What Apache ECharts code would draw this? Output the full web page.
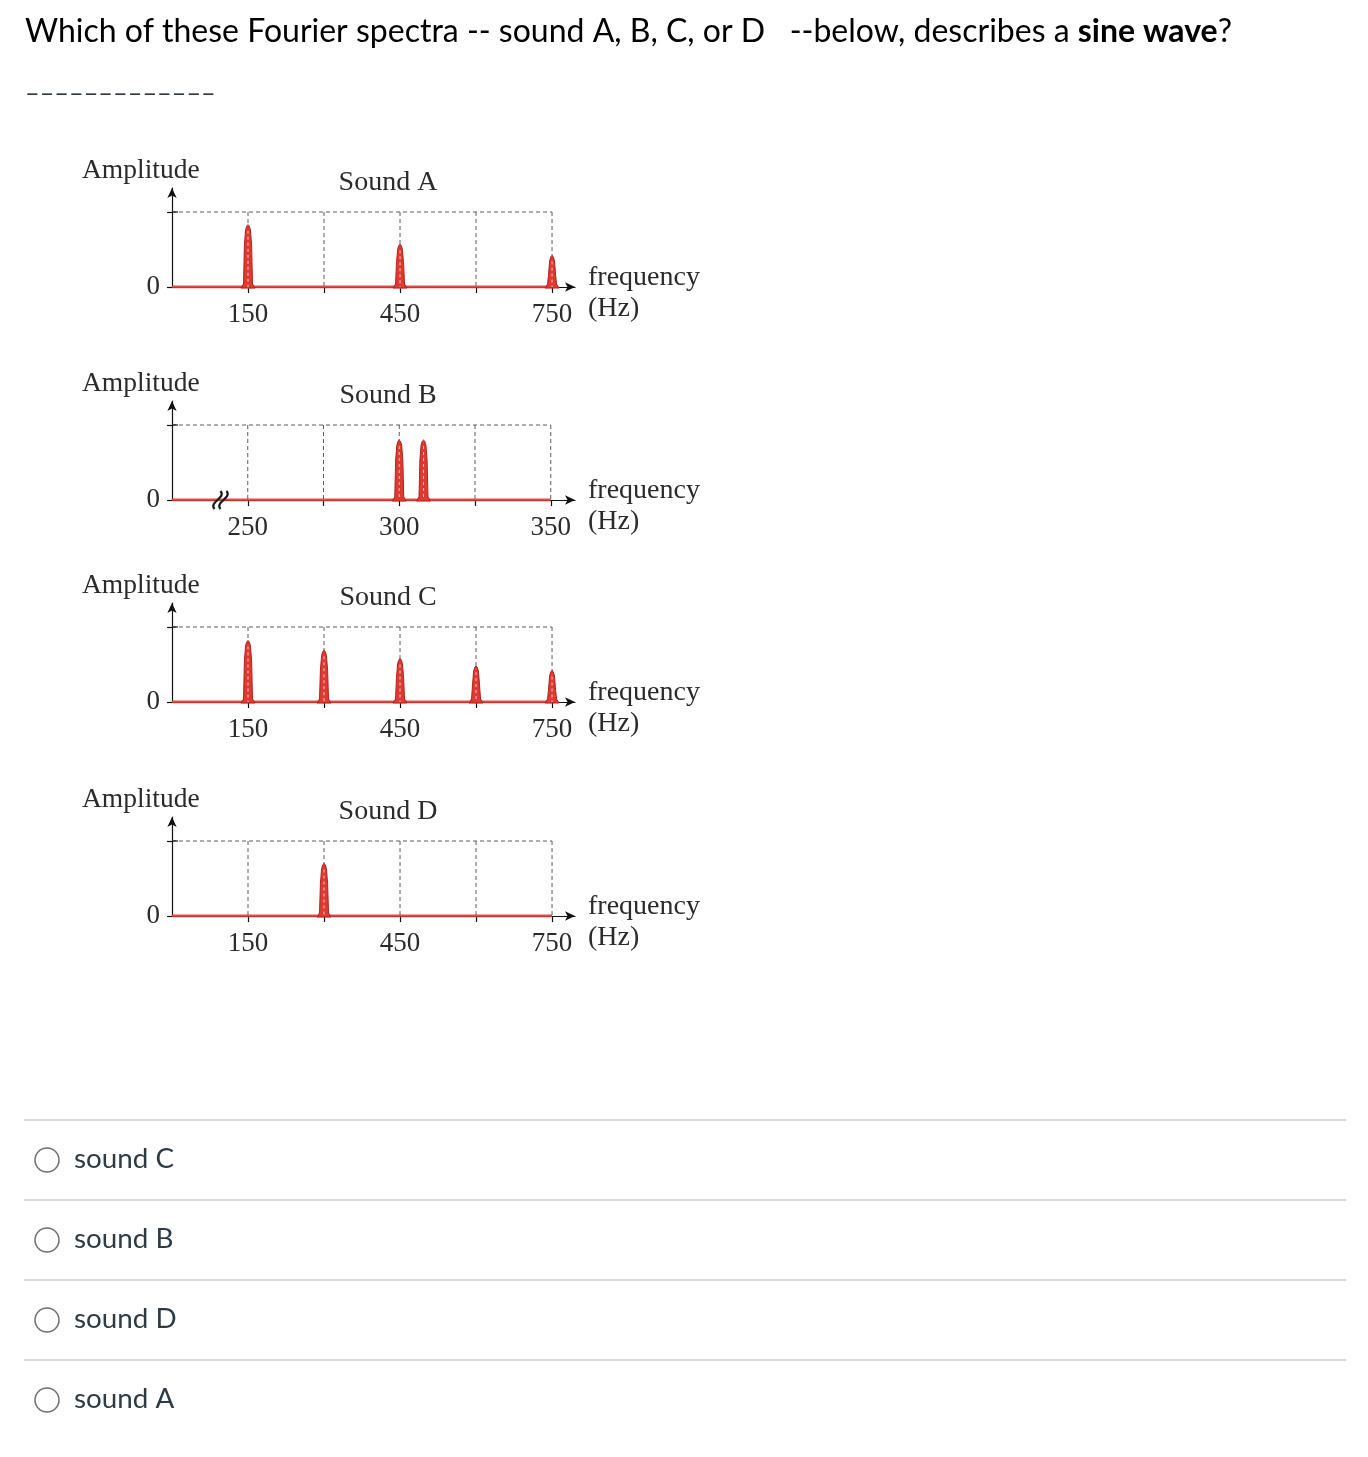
<!DOCTYPE html>
<html><head><meta charset="utf-8">
<script src="https://cdn.jsdelivr.net/npm/echarts@6/dist/echarts.min.js"></script>
<style>html,body{margin:0;padding:0;background:#fff}#c{width:1368px;height:1457px}</style>
</head><body><div id="c"></div>
<script>
// ---- data ----
const soundTitles = ['Sound A', 'Sound B', 'Sound C', 'Sound D'];
const peakFreqA = [150, 450, 750];
const peakAmpA  = [0.83, 0.57, 0.42];
const peakFreqB = [300, 308];
const peakAmpB  = [0.80, 0.80];
const peakFreqC = [150, 300, 450, 600, 750];
const peakAmpC  = [0.82, 0.69, 0.58, 0.48, 0.42];
const peakFreqD = [300];
const peakAmpD  = [0.70];
const gridFreqA = [150, 300, 450, 600, 750];
const gridFreqB = [250, 275, 300, 325, 350];
const tickLabelsA = [150, 450, 750];
const tickLabelsB = [250, 300, 350];
const spanA = [0, 750];
const spanB = [225, 350];
const breakFreqB = [241];
const refAmp = 1;
const zeroLabel = [0];
const axisNameLines = ['frequency', '(Hz)'];
const answerChoices = ['sound C', 'sound B', 'sound D', 'sound A'];

// ---- layout ----
const SERIF = '"Liberation Serif","Times New Roman",serif';
const INK = '#2d3b45';
const CH = '#2b2b2b';
const RED = '#de3a31';
const baselines = [287, 500, 702, 916];
const charts = [
  {title: soundTitles[0], pf: peakFreqA, pa: peakAmpA, gf: gridFreqA, tl: tickLabelsA, span: spanA, max: 795.3, brk: []},
  {title: soundTitles[1], pf: peakFreqB, pa: peakAmpB, gf: gridFreqB, tl: tickLabelsB, span: spanB, max: 358, brk: breakFreqB},
  {title: soundTitles[2], pf: peakFreqC, pa: peakAmpC, gf: gridFreqA, tl: tickLabelsA, span: spanA, max: 795.3, brk: []},
  {title: soundTitles[3], pf: peakFreqD, pa: peakAmpD, gf: gridFreqA, tl: tickLabelsA, span: spanA, max: 795.3, brk: []}
];

const grid = [], xAxis = [], yAxis = [], series = [], graphic = [];

charts.forEach((c, i) => {
  const base = baselines[i];
  grid.push({left: 172, width: 403, top: base - 99, height: 99});
  xAxis.push({
    type: 'value', gridIndex: i, min: c.span[0], max: c.max,
    axisLine: {show: true, onZero: false, lineStyle: {color: '#111', width: 1.2}, symbol: ['none', 'arrow'], symbolSize: [7, 10]},
    axisTick: {show: true, customValues: c.gf, length: 6, lineStyle: {color: '#111', width: 1.2}},
    axisLabel: {show: true, customValues: c.tl, formatter: v => String(v), margin: 14, fontFamily: SERIF, fontSize: 27, color: CH},
    splitLine: {show: false}
  });
  yAxis.push({
    type: 'value', gridIndex: i, min: 0, max: 1.32,
    axisLine: {show: true, onZero: false, lineStyle: {color: '#111', width: 1.2}, symbol: ['none', 'arrow'], symbolSize: [7, 10]},
    axisTick: {show: true, customValues: [0, refAmp], length: 5, lineStyle: {color: '#111', width: 1.2}},
    axisLabel: {show: true, customValues: zeroLabel, formatter: v => String(v), margin: 12, fontFamily: SERIF, fontSize: 27, color: CH},
    splitLine: {show: false}
  });
  // dashed verticals at grid frequencies
  series.push({
    type: 'custom', xAxisIndex: i, yAxisIndex: i, z: 1, silent: true,
    data: c.gf.map(f => [f, refAmp]),
    renderItem: (p, api) => {
      const b = api.coord([api.value(0), 0]);
      const t = api.coord([api.value(0), api.value(1)]);
      return {type: 'line', shape: {x1: t[0], y1: t[1], x2: b[0], y2: b[1]},
        style: {stroke: '#5c5c5c', lineWidth: 1, lineDash: [4, 3]}};
    }
  });
  // dashed reference level line + crossing tick
  series.push({
    type: 'custom', xAxisIndex: i, yAxisIndex: i, z: 1, silent: true,
    data: [[c.span[0], c.span[1], refAmp]],
    renderItem: (p, api) => {
      const a = api.coord([api.value(0), api.value(2)]);
      const b = api.coord([api.value(1), api.value(2)]);
      return {type: 'group', children: [
        {type: 'line', shape: {x1: a[0], y1: a[1], x2: b[0], y2: b[1]}, style: {stroke: '#5c5c5c', lineWidth: 1, lineDash: [4, 3]}},
        {type: 'line', shape: {x1: a[0], y1: a[1], x2: a[0] + 6, y2: a[1]}, style: {stroke: '#111', lineWidth: 1.2}}
      ]};
    }
  });
  // red zero-amplitude baseline
  series.push({
    type: 'line', xAxisIndex: i, yAxisIndex: i, z: 2, silent: true, symbol: 'none',
    data: [[c.span[0], 0], [c.span[1], 0]],
    lineStyle: {color: RED, width: 3.2, opacity: 0.9}
  });
  // spectral peaks
  series.push({
    type: 'custom', xAxisIndex: i, yAxisIndex: i, z: 3, silent: true,
    data: c.pf.map((f, k) => [f, c.pa[k]]),
    renderItem: (p, api) => {
      const b = api.coord([api.value(0), 0]);
      const t = api.coord([api.value(0), api.value(1)]);
      const bx = b[0], by = b[1], tx = t[0], ty = t[1];
      const pts = [[bx - 7, by + 1], [bx - 4.5, by - 3], [bx - 3.6, ty + 20], [tx - 2.4, ty + 5], [tx - 1.2, ty + 1.2], [tx, ty],
                   [tx + 1.2, ty + 1.2], [tx + 2.4, ty + 5], [bx + 3.6, ty + 20], [bx + 4.5, by - 3], [bx + 7, by + 1]];
      return {type: 'group', children: [
        {type: 'polygon', shape: {points: pts}, style: {fill: RED, stroke: '#b3221b', lineWidth: 1}},
        {type: 'line', shape: {x1: tx, y1: ty + 6, x2: bx, y2: by}, style: {stroke: '#f6c6bf', lineWidth: 1, lineDash: [3, 3]}}
      ]};
    }
  });
  // axis break mark
  if (c.brk.length) {
    series.push({
      type: 'custom', xAxisIndex: i, yAxisIndex: i, z: 4, silent: true,
      data: c.brk.map(f => [f, 0]),
      renderItem: (p, api) => {
        const q = api.coord([api.value(0), 0]);
        const mk = dx => ({type: 'bezierCurve', shape: {x1: q[0] + dx - 3, y1: q[1] + 9, cpx1: q[0] + dx - 9, cpy1: q[1] + 2,
          cpx2: q[0] + dx + 9, cpy2: q[1] - 2, x2: q[0] + dx + 3, y2: q[1] - 9}, style: {stroke: '#1a1a1a', lineWidth: 2.2, fill: null}});
        return {type: 'group', children: [mk(-3), mk(3)]};
      }
    });
  }
  graphic.push({type: 'text', x: 82, y: base - 116, style: {text: 'Amplitude', font: '27.5px ' + SERIF, fill: CH, verticalAlign: 'middle', align: 'left'}});
  graphic.push({type: 'text', x: 388, y: base - 104, style: {text: c.title, font: '28px ' + SERIF, fill: CH, verticalAlign: 'middle', align: 'center'}});
  graphic.push({type: 'text', x: 588, y: base - 9, style: {text: axisNameLines[0], font: '28px ' + SERIF, fill: CH, verticalAlign: 'middle', align: 'left'}});
  graphic.push({type: 'text', x: 588, y: base + 22, style: {text: axisNameLines[1], font: '28px ' + SERIF, fill: CH, verticalAlign: 'middle', align: 'left'}});
});

// question text
graphic.push({type: 'text', x: 25, y: 32, style: {
  text: '{n|Which of these Fourier spectra -- sound A, B, C, or D   --below, describes a }{b|sine wave}{n|?}',
  rich: {n: {fontFamily: 'Lato', fontSize: 32, color: INK}, b: {fontFamily: 'Lato', fontSize: 32, fontWeight: 'bold', color: INK}},
  verticalAlign: 'middle', align: 'left'}});
graphic.push({type: 'text', x: 25, y: 94, style: {text: '\u2013\u2013\u2013\u2013\u2013\u2013\u2013\u2013\u2013\u2013\u2013\u2013\u2013',
  font: '25.3px Lato', fill: INK, verticalAlign: 'middle', align: 'left'}});

// answer choices
answerChoices.forEach((t, k) => {
  const y0 = 1120 + 80 * k;
  graphic.push({type: 'line', shape: {x1: 24, y1: y0, x2: 1346, y2: y0}, style: {stroke: '#dadada', lineWidth: 2}});
  graphic.push({type: 'circle', shape: {cx: 47, cy: y0 + 40, r: 12}, style: {fill: '#fff', stroke: '#6e6e6e', lineWidth: 1.5}});
  graphic.push({type: 'text', x: 74, y: y0 + 39, style: {text: t, font: '27.8px Lato', fill: INK, verticalAlign: 'middle', align: 'left'}});
});

const chart = echarts.init(document.getElementById('c'), null, {renderer: 'canvas'});
chart.setOption({
  animation: false,
  backgroundColor: '#fff',
  grid, xAxis, yAxis, series, graphic
});
</script>
</body></html>
